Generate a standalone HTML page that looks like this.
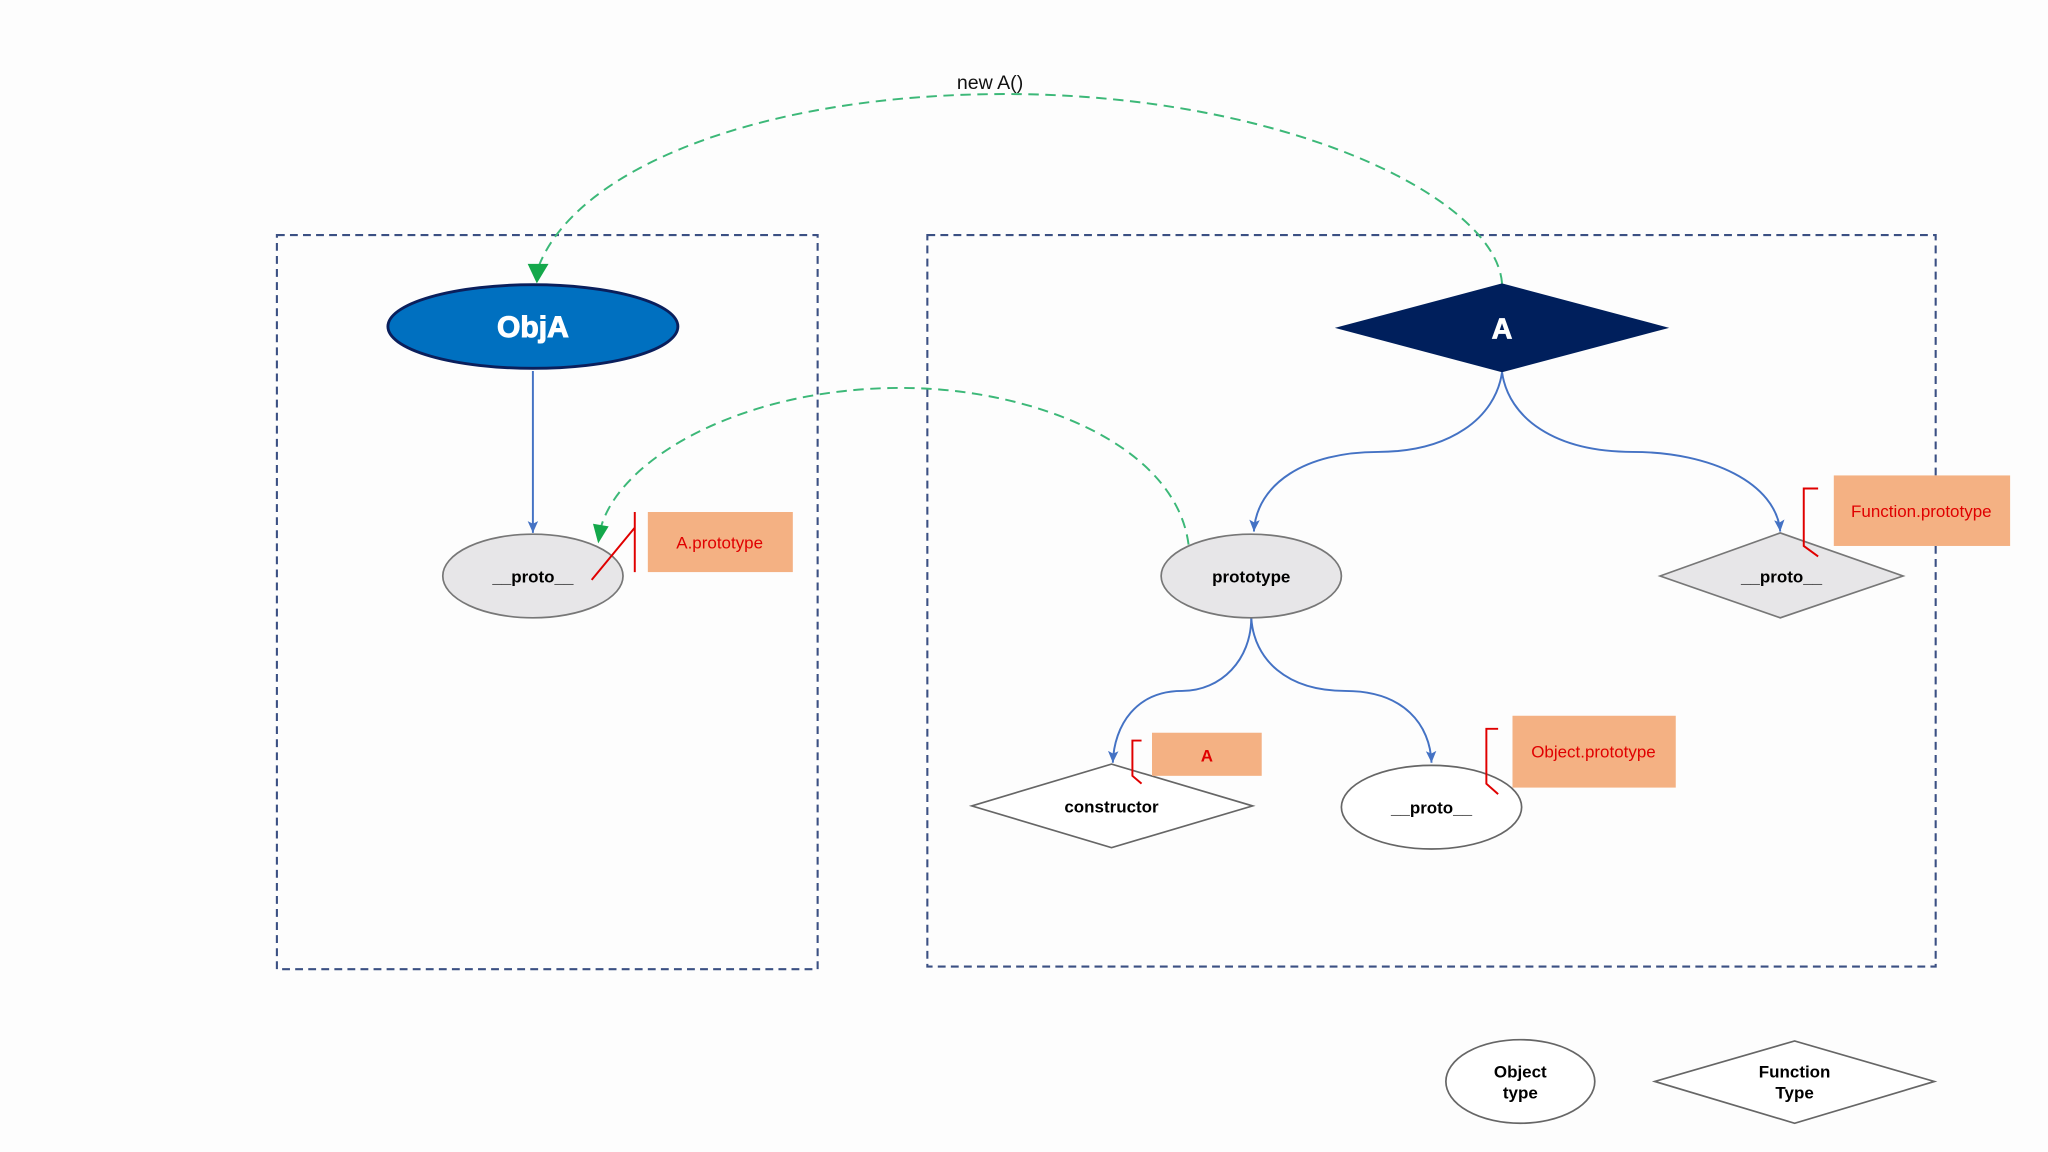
<!DOCTYPE html>
<html><head><meta charset="utf-8"><style>
html,body{margin:0;padding:0;background:#fdfdfd;}
svg{display:block}
text{font-family:"Liberation Sans",Arial,sans-serif}
</style></head><body>
<svg width="2048" height="1152" viewBox="0 0 1568 882" preserveAspectRatio="none" xmlns="http://www.w3.org/2000/svg">
<defs>
<marker id="bl" markerWidth="10" markerHeight="10" refX="9" refY="5" orient="auto" markerUnits="userSpaceOnUse" viewBox="0 0 10 10"><path d="M0,1 L9,5 L0,9 L2,5 Z" fill="#4472c4"/></marker>
</defs>
<rect width="1568" height="882" fill="#fdfdfd"/>
<rect x="212" y="180" width="414" height="562" fill="none" stroke="#3b5083" stroke-width="1.6" stroke-dasharray="6,4"/>
<rect x="710" y="180" width="772" height="560" fill="none" stroke="#3b5083" stroke-width="1.6" stroke-dasharray="6,4"/>
<path d="M1150,217 C1145,150 980,72 770,72 C580,72 440,130 412,205" fill="none" stroke="#3cb878" stroke-width="1.5" stroke-dasharray="8,5"/>
<polygon points="404,202 420,202 411,217" fill="#14a84b"/>
<text x="758" y="68" font-size="15" text-anchor="middle" fill="#111">new A()</text>
<path d="M910,417 C900,340 790,297 690,297 C570,297 475,350 460,404" fill="none" stroke="#3cb878" stroke-width="1.5" stroke-dasharray="8,5"/>
<polygon points="454,401 466,403 458,416" fill="#14a84b"/>
<line x1="408" y1="284" x2="408" y2="408" stroke="#4472c4" stroke-width="1.5" marker-end="url(#bl)"/>
<path d="M1150,285 C1145,320 1110,346 1055,346 C1000,346 962,370 960,407" fill="none" stroke="#4472c4" stroke-width="1.5" marker-end="url(#bl)"/>
<path d="M1150,285 C1155,320 1190,346 1250,346 C1310,346 1360,370 1363,407" fill="none" stroke="#4472c4" stroke-width="1.5" marker-end="url(#bl)"/>
<path d="M958,473 C958,505 935,529 905,529 C870,529 853,555 852,584" fill="none" stroke="#4472c4" stroke-width="1.5" marker-end="url(#bl)"/>
<path d="M958,473 C960,505 985,529 1030,529 C1075,529 1095,555 1096,584" fill="none" stroke="#4472c4" stroke-width="1.5" marker-end="url(#bl)"/>
<ellipse cx="408" cy="250" rx="111" ry="32" fill="#0070c0" stroke="#0a1f5c" stroke-width="2.2"/>
<text x="408" y="258" font-size="23" font-weight="bold" fill="#fff" text-anchor="middle" stroke="#fff" stroke-width="0.8">ObjA</text>
<polygon points="1022,251 1150,217 1278,251 1150,285" fill="#001f5c"/>
<text x="1150" y="259" font-size="22" font-weight="bold" fill="#fff" text-anchor="middle" stroke="#fff" stroke-width="0.6">A</text>
<ellipse cx="408" cy="441" rx="69" ry="32" fill="#e7e6e8" stroke="#777" stroke-width="1.3"/>
<text x="408" y="446" font-size="13" font-weight="bold" fill="#000" text-anchor="middle">__proto__</text>
<rect x="496" y="392" width="111" height="46" fill="#f4b183"/>
<text x="551" y="420" font-size="13" fill="#e00000" text-anchor="middle">A.prototype</text>
<path d="M453,444 L486,404 M486,392 L486,438" stroke="#e00000" stroke-width="1.5" fill="none"/>
<ellipse cx="958" cy="441" rx="69" ry="32" fill="#e7e6e8" stroke="#777" stroke-width="1.3"/>
<text x="958" y="446" font-size="13" font-weight="bold" fill="#000" text-anchor="middle">prototype</text>
<polygon points="1271,441 1363,408 1457,441 1363,473" fill="#e7e6e8" stroke="#777" stroke-width="1.3"/>
<text x="1364" y="446" font-size="13" font-weight="bold" fill="#000" text-anchor="middle">__proto__</text>
<rect x="1404" y="364" width="135" height="54" fill="#f4b183"/>
<text x="1471" y="396" font-size="13" fill="#e00000" text-anchor="middle">Function.prototype</text>
<path d="M1392,374 L1381,374 L1381,418 L1392,426" stroke="#e00000" stroke-width="1.5" fill="none"/>
<polygon points="744,617 851,585 959,617 851,649" fill="#fff" stroke="#666" stroke-width="1.3"/>
<text x="851" y="622" font-size="13" font-weight="bold" fill="#000" text-anchor="middle">constructor</text>
<rect x="882" y="561" width="84" height="33" fill="#f4b183"/>
<text x="924" y="583" font-size="13" font-weight="bold" fill="#e00000" text-anchor="middle">A</text>
<path d="M874,567 L867,567 L867,594 L874,600" stroke="#e00000" stroke-width="1.5" fill="none"/>
<ellipse cx="1096" cy="618" rx="69" ry="32" fill="#fff" stroke="#666" stroke-width="1.3"/>
<text x="1096" y="623" font-size="13" font-weight="bold" fill="#000" text-anchor="middle">__proto__</text>
<rect x="1158" y="548" width="125" height="55" fill="#f4b183"/>
<text x="1220" y="580" font-size="13" fill="#e00000" text-anchor="middle">Object.prototype</text>
<path d="M1147,558 L1138,558 L1138,600 L1147,608" stroke="#e00000" stroke-width="1.5" fill="none"/>
<ellipse cx="1164" cy="828" rx="57" ry="32" fill="#fff" stroke="#666" stroke-width="1.3"/>
<text x="1164" y="825" font-size="13" font-weight="bold" fill="#000" text-anchor="middle">Object</text>
<text x="1164" y="841" font-size="13" font-weight="bold" fill="#000" text-anchor="middle">type</text>
<polygon points="1267,828 1374,797 1481,828 1374,860" fill="#fff" stroke="#666" stroke-width="1.3"/>
<text x="1374" y="825" font-size="13" font-weight="bold" fill="#000" text-anchor="middle">Function</text>
<text x="1374" y="841" font-size="13" font-weight="bold" fill="#000" text-anchor="middle">Type</text>
</svg>
</body></html>
